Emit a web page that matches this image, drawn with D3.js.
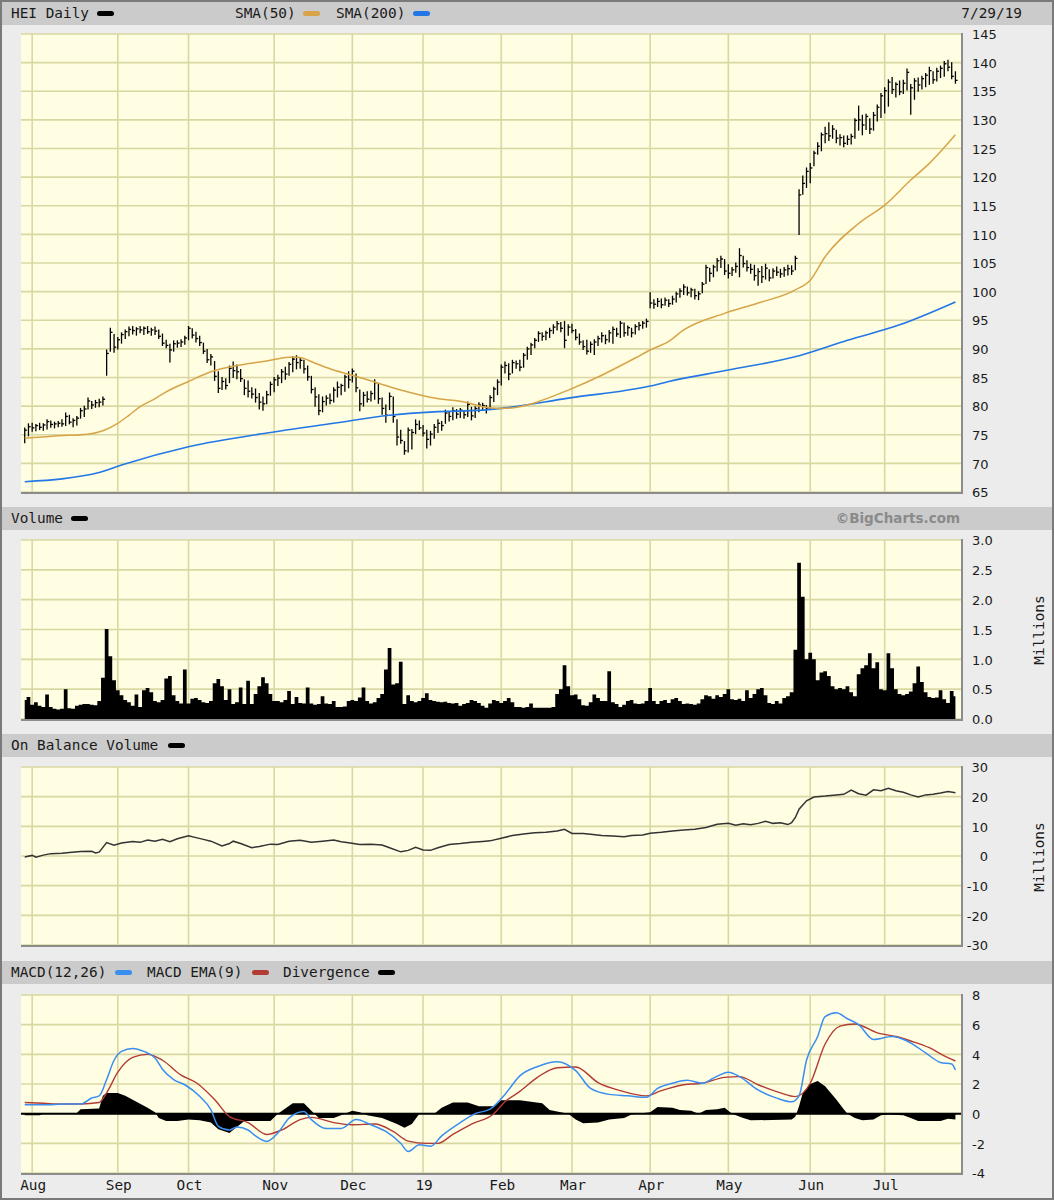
<!DOCTYPE html>
<html lang="en">
<head>
<meta charset="UTF-8">
<title>HEI Daily</title>
<script src="https://cdnjs.cloudflare.com/ajax/libs/d3/7.8.5/d3.min.js"></script>
<style>
    * { margin: 0; padding: 0; box-sizing: border-box; }
    body { background: #ffffff; width: 1054px; height: 1200px; overflow: hidden; }
    svg { display: block; }
    .hdr { font-family: "DejaVu Sans Mono", monospace; font-size: 14.4px; fill: #1a1a1a; }
    .tick { font-family: "DejaVu Sans", sans-serif; font-size: 13px; fill: #1a1a1a; }
    .month { font-family: "DejaVu Sans Mono", monospace; font-size: 14.4px; fill: #1a1a1a; }
    .copy { font-family: "DejaVu Sans", sans-serif; font-weight: bold; font-size: 13.5px; fill: #8a8a8a; }
</style>
</head>
<body>
<div id="chart"></div>
<script>
    // ---- data (trading days 7/30/18 .. 7/29/19) ----
    const monthLabels = ["Aug", "Sep", "Oct", "Nov", "Dec", "19", "Feb", "Mar", "Apr", "May", "Jun", "Jul"];
    const monthDays = [2, 23, 19, 23, 21, 19, 21, 19, 21, 21, 22, 20, 20]; // first entry = last days of Jul 2018

    const priceLow = [
        73.6, 74.8, 75.6, 75.7, 75.9, 75.8, 76.0, 76.3, 76.2, 76.4, 76.5, 76.6, 76.9, 76.4, 76.7, 77.9, 78.2, 79.5, 79.6, 79.8, 79.9, 80.2, 85.4, 89.6, 89.4,
        90.0, 91.0, 91.8, 92.3, 92.6, 92.4, 92.8, 92.5, 92.7, 92.4, 92.5, 91.8, 90.6, 90.2, 87.7, 89.6, 90.3, 90.4, 90.8,
        91.6, 91.9, 91.2, 90.6, 89.2, 87.6, 87.2, 84.5, 82.4, 82.9, 83.0, 84.1, 85.0, 84.8, 84.3, 82.0, 81.6, 81.4, 80.7, 79.5, 79.3, 80.4, 81.9,
        82.5, 83.6, 84.1, 84.7, 85.4, 86.0, 86.5, 86.6, 85.8, 84.5, 82.3, 80.0, 78.5, 79.0, 80.2, 80.4, 80.7, 81.6, 82.0, 82.6, 83.2,
        84.2, 82.5, 79.2, 80.0, 80.7, 80.9, 81.2, 80.5, 78.6, 77.2, 79.4, 77.2, 73.2, 73.5, 71.6, 72.0, 72.5, 75.2, 75.9,
        74.8, 72.7, 73.2, 74.4, 75.4, 75.8, 77.0, 77.4, 77.6, 77.9, 78.0, 77.9, 78.2, 77.6, 78.0, 79.0, 79.4, 78.8, 79.6, 80.8, 82.0,
        83.7, 85.8, 84.6, 85.8, 86.6, 86.2, 86.8, 88.2, 89.0, 90.2, 91.3, 91.5, 91.6, 92.0, 92.7, 93.3, 93.0, 90.2, 92.4,
        92.8, 91.6, 90.8, 89.9, 89.1, 89.4, 89.0, 90.6, 91.2, 90.9, 91.2, 91.0, 92.2, 92.0, 92.2, 92.4, 92.1, 92.6, 93.3, 93.6, 93.8,
        97.2, 97.1, 97.4, 97.2, 97.6, 97.4, 97.8, 98.2, 99.0, 99.5, 99.4, 99.1, 98.7, 98.6, 99.8, 101.4, 101.8, 102.6, 103.6, 104.2, 103.0,
        102.4, 102.8, 103.4, 102.6, 104.3, 103.6, 103.2, 102.0, 101.1, 101.6, 102.2, 101.9, 102.4, 102.8, 102.5, 102.7, 102.9, 103.0, 103.8, 110.0, 117.0, 118.2,
        119.0, 122.0, 124.0, 124.6, 126.0, 126.4, 126.8, 126.0, 125.6, 125.3, 125.7, 125.8, 126.8, 128.2, 127.4, 128.3, 127.6, 128.2, 129.8, 130.4,
        131.2, 132.4, 134.6, 134.0, 134.4, 134.6, 135.2, 131.0, 133.6, 135.0, 135.4, 135.8, 136.2, 136.4, 136.8, 137.4, 137.6, 138.6, 137.2, 136.4
    ];
    const priceHigh = [
        76.2, 76.9, 77.0, 76.8, 77.0, 76.9, 77.6, 77.4, 77.2, 77.3, 77.6, 78.8, 78.4, 77.8, 78.2, 79.6, 80.0, 81.4, 80.8, 81.0, 81.2, 81.6, 89.8, 93.6, 92.5,
        92.0, 92.8, 93.3, 93.8, 93.9, 93.7, 93.9, 93.8, 93.9, 93.6, 93.8, 93.3, 92.6, 91.5, 90.8, 91.4, 91.4, 91.6, 92.2,
        93.9, 93.5, 92.9, 92.2, 91.0, 89.9, 89.0, 87.8, 86.0, 85.0, 84.8, 87.0, 87.7, 87.2, 86.4, 84.6, 84.4, 83.2, 83.0, 82.2, 81.6, 82.6, 84.2,
        85.0, 85.4, 86.4, 86.8, 87.6, 88.6, 88.8, 88.3, 88.0, 87.0, 85.2, 83.2, 82.0, 81.6, 81.8, 82.1, 83.2, 84.2, 83.8, 85.4, 86.0,
        86.5, 85.6, 82.8, 82.4, 82.5, 82.6, 84.6, 84.0, 81.4, 80.2, 82.3, 81.6, 77.6, 75.8, 73.8, 76.2, 75.9, 77.6, 77.4,
        76.6, 75.8, 75.6, 76.8, 77.6, 77.3, 79.3, 78.9, 79.7, 79.4, 79.6, 79.2, 80.7, 79.8, 79.9, 80.6, 80.5, 80.1, 81.8, 83.3, 84.6,
        87.2, 87.7, 87.4, 88.0, 87.9, 88.0, 89.2, 90.3, 91.0, 91.8, 93.0, 92.8, 93.1, 93.6, 94.2, 94.8, 94.6, 94.8, 94.2,
        94.3, 93.4, 92.6, 91.4, 91.5, 91.2, 91.6, 92.2, 92.8, 92.4, 93.2, 93.8, 93.6, 94.8, 94.5, 94.0, 93.6, 94.2, 94.6, 94.8, 95.2,
        99.8, 98.6, 98.8, 98.7, 98.9, 98.6, 99.2, 99.9, 100.5, 101.2, 100.8, 100.6, 100.4, 100.0, 101.6, 104.6, 104.1, 104.6, 105.8, 106.2, 105.6,
        104.7, 104.2, 105.0, 107.5, 106.2, 105.4, 104.8, 104.6, 104.0, 104.4, 104.8, 103.8, 104.0, 104.3, 103.9, 104.2, 104.6, 104.5, 106.2, 117.8, 120.2, 121.6,
        122.4, 124.5, 126.0, 127.7, 128.7, 129.5, 129.0, 128.2, 127.4, 127.2, 127.2, 127.5, 130.2, 132.4, 130.8, 131.0, 130.2, 131.3, 132.6, 134.6,
        135.6, 137.0, 137.4, 136.5, 136.8, 136.9, 138.9, 136.2, 137.2, 137.3, 137.6, 138.1, 139.2, 138.4, 139.0, 139.4, 140.2, 140.4, 140.0, 138.4
    ];
    const priceClose = [
        75.8, 76.4, 76.2, 76.6, 76.3, 76.7, 77.3, 76.8, 76.9, 77.0, 76.9, 78.2, 77.2, 77.5, 77.9, 79.2, 79.5, 80.9, 80.2, 80.6, 80.7, 81.2, 89.2, 92.9, 90.3,
        91.6, 92.5, 93.0, 93.4, 93.2, 93.5, 93.3, 93.6, 93.0, 93.3, 93.1, 92.2, 91.0, 90.6, 89.8, 90.9, 91.0, 91.2, 91.9,
        93.6, 92.4, 91.8, 91.1, 89.6, 88.1, 88.6, 85.2, 83.1, 84.3, 83.6, 86.6, 86.2, 86.0, 84.8, 83.1, 82.6, 82.1, 81.5, 80.7, 80.4, 82.0, 83.8,
        84.6, 84.9, 86.0, 85.6, 87.3, 88.2, 87.6, 88.0, 86.5, 85.1, 82.9, 81.6, 79.2, 80.8, 81.4, 81.0, 82.8, 83.3, 83.6, 85.1, 84.6,
        86.1, 83.2, 80.4, 81.9, 81.2, 82.2, 84.1, 81.3, 79.6, 78.4, 81.7, 78.2, 74.6, 74.0, 72.2, 75.8, 75.4, 76.8, 76.2,
        75.3, 74.2, 75.1, 76.3, 77.0, 76.6, 78.8, 78.2, 79.2, 78.6, 79.3, 78.5, 80.3, 78.3, 79.6, 80.2, 80.1, 79.5, 81.5, 83.0, 84.2,
        86.8, 87.1, 85.6, 87.6, 87.4, 86.8, 88.9, 90.0, 90.7, 91.5, 92.7, 92.2, 92.8, 93.2, 93.8, 94.4, 93.6, 91.5, 93.8,
        93.2, 92.0, 91.2, 90.4, 89.6, 90.8, 91.2, 91.8, 92.3, 91.6, 92.8, 93.4, 92.6, 94.5, 92.8, 93.7, 92.8, 93.9, 94.1, 94.5, 94.8,
        98.0, 97.8, 98.3, 97.7, 98.5, 97.9, 98.7, 99.6, 100.1, 100.8, 99.8, 100.3, 99.3, 99.6, 101.3, 104.2, 103.2, 104.3, 105.4, 105.7, 103.6,
        103.2, 103.8, 104.4, 106.3, 104.9, 104.2, 103.9, 102.8, 103.5, 102.6, 104.1, 102.4, 103.6, 103.4, 103.1, 103.8, 104.0, 103.6, 105.8, 116.9, 118.9, 121.0,
        121.6, 124.2, 125.4, 127.4, 127.6, 127.2, 128.4, 126.8, 126.9, 125.9, 126.6, 127.1, 129.9, 130.0, 129.1, 130.6, 128.4, 130.8, 132.2, 134.2,
        135.1, 136.6, 135.3, 136.2, 134.9, 136.4, 138.3, 135.6, 136.8, 136.1, 137.2, 137.8, 138.6, 137.0, 138.5, 139.0, 139.8, 139.2, 137.6, 136.9
    ];

    // moving averages, read at sample days
    const sma50Day = [0, 8, 17, 21, 25, 28, 31, 35, 38, 44, 50, 58, 65, 72, 74, 78, 83, 88, 95, 101, 110, 119, 123, 128, 133, 138, 146, 155, 164, 168, 173, 177, 188, 197, 207, 211, 215, 224, 231, 238, 243, 250];
    const sma50 = [74.4, 74.8, 75.1, 75.7, 77.0, 78.4, 79.9, 81.3, 82.5, 84.3, 86.0, 87.2, 87.9, 88.6, 88.5, 87.5, 86.3, 85.4, 84.0, 82.8, 81.4, 80.6, 79.9, 79.6, 79.9, 80.8, 82.8, 85.4, 88.4, 89.8, 91.3, 93.3, 96.2, 98.0, 100.3, 102.0, 106.1, 111.9, 115.1, 119.5, 122.4, 127.4];
    const sma200Day = [0, 20, 26, 44, 65, 83, 98, 110, 123, 128, 146, 168, 173, 189, 208, 221, 235, 250];
    const sma200 = [66.8, 68.4, 69.7, 72.9, 75.3, 77.0, 78.4, 79.0, 79.3, 79.6, 81.4, 83.5, 84.3, 86.3, 88.8, 91.5, 94.2, 98.2];

    // volume, millions
    const volume = [
        0.32, 0.37, 0.24, 0.28, 0.22, 0.20, 0.41, 0.20, 0.17, 0.16, 0.17, 0.50, 0.18, 0.17, 0.22, 0.24, 0.25, 0.25, 0.24, 0.23, 0.30, 0.69, 1.51, 1.05, 0.65,
        0.48, 0.40, 0.32, 0.28, 0.22, 0.41, 0.20, 0.48, 0.52, 0.45, 0.30, 0.28, 0.32, 0.68, 0.72, 0.40, 0.30, 0.26, 0.83,
        0.26, 0.34, 0.35, 0.32, 0.28, 0.27, 0.30, 0.60, 0.67, 0.55, 0.32, 0.50, 0.25, 0.28, 0.53, 0.25, 0.64, 0.25, 0.42, 0.55, 0.70, 0.60, 0.42,
        0.30, 0.30, 0.28, 0.32, 0.47, 0.25, 0.37, 0.27, 0.26, 0.53, 0.26, 0.24, 0.25, 0.38, 0.26, 0.25, 0.30, 0.20, 0.20, 0.21, 0.30,
        0.32, 0.30, 0.36, 0.53, 0.30, 0.26, 0.28, 0.35, 0.42, 0.83, 1.19, 0.58, 0.60, 0.96, 0.25, 0.40, 0.30, 0.28, 0.30,
        0.35, 0.43, 0.32, 0.30, 0.29, 0.28, 0.29, 0.27, 0.26, 0.27, 0.22, 0.25, 0.27, 0.32, 0.30, 0.27, 0.22, 0.19, 0.26, 0.32, 0.30,
        0.27, 0.30, 0.35, 0.28, 0.20, 0.20, 0.19, 0.20, 0.26, 0.19, 0.19, 0.19, 0.19, 0.19, 0.20, 0.42, 0.50, 0.90, 0.55,
        0.40, 0.41, 0.33, 0.23, 0.22, 0.28, 0.41, 0.35, 0.30, 0.30, 0.80, 0.28, 0.25, 0.20, 0.24, 0.30, 0.32, 0.26, 0.25, 0.26, 0.30,
        0.52, 0.30, 0.25, 0.30, 0.32, 0.27, 0.33, 0.35, 0.30, 0.25, 0.26, 0.25, 0.24, 0.26, 0.33, 0.40, 0.38, 0.34, 0.40, 0.37, 0.42,
        0.50, 0.33, 0.32, 0.34, 0.30, 0.48, 0.35, 0.42, 0.50, 0.52, 0.40, 0.27, 0.25, 0.30, 0.26, 0.35, 0.38, 0.45, 1.16, 2.62, 2.05, 1.00,
        1.11, 1.00, 0.65, 0.78, 0.80, 0.72, 0.55, 0.50, 0.52, 0.50, 0.55, 0.45, 0.38, 0.75, 0.85, 0.90, 1.10, 0.85, 0.95, 0.50,
        0.48, 1.10, 0.85, 0.50, 0.42, 0.40, 0.42, 0.46, 0.60, 0.88, 0.62, 0.45, 0.37, 0.35, 0.36, 0.48, 0.33, 0.27, 0.47, 0.38
    ];

    // on balance volume, millions
    const obvDay = [0, 2, 3, 5, 7, 10, 12, 15, 18, 19, 20, 22, 24, 26, 29, 31, 33, 35, 37, 39, 41, 44, 46, 48, 50, 53, 55, 56, 58, 61, 63, 66, 68, 71, 74, 77, 80, 83, 85, 87, 90, 93, 96, 98, 101, 103, 105, 107, 109, 111, 114, 117, 120, 123, 125, 128, 131, 134, 137, 140, 143, 145, 147, 150, 152, 155, 158, 161, 163, 166, 168, 171, 174, 177, 180, 183, 186, 189, 191, 193, 195, 197, 199, 201, 203, 205, 206, 207, 208, 210, 212, 215, 218, 220, 222, 224, 226, 228, 230, 232, 234, 236, 238, 240, 242, 244, 246, 248, 250];
    const obv = [-0.3, 0.2, -0.4, 0.3, 0.8, 0.9, 1.2, 1.5, 1.6, 1.0, 1.3, 4.5, 3.6, 4.4, 4.9, 4.6, 5.4, 5.0, 5.6, 4.8, 5.8, 6.8, 6.2, 5.6, 5.0, 3.4, 4.2, 5.0, 4.2, 2.8, 3.2, 4.0, 3.9, 5.0, 5.3, 4.6, 5.0, 5.4, 4.8, 4.5, 3.9, 4.0, 3.7, 2.8, 1.4, 1.9, 2.9, 2.0, 1.9, 2.8, 3.9, 4.2, 4.6, 4.9, 5.1, 6.0, 6.9, 7.4, 7.8, 8.0, 8.4, 9.0, 7.6, 7.6, 7.3, 6.9, 6.7, 6.5, 6.9, 7.1, 7.7, 8.0, 8.4, 8.8, 9.0, 9.6, 10.7, 11.0, 10.4, 10.9, 10.5, 11.0, 11.7, 11.0, 11.2, 10.6, 11.2, 13.0, 15.8, 18.6, 19.9, 20.2, 20.6, 20.8, 22.2, 21.0, 20.5, 22.3, 22.0, 22.8, 22.0, 21.5, 20.6, 19.9, 20.6, 20.8, 21.2, 21.7, 21.3];

    // MACD(12,26), EMA(9) signal and divergence
    const macdDay = [0, 5, 11, 15, 18, 20, 22, 24, 26, 29, 32, 35, 37, 40, 43, 47, 50, 52, 55, 57, 60, 62, 65, 68, 71, 75, 77, 81, 85, 89, 93, 97, 101, 103, 106, 109, 112, 117, 121, 125, 129, 133, 138, 143, 148, 152, 157, 162, 167, 170, 174, 178, 182, 185, 189, 192, 197, 202, 206, 208, 210, 213, 215, 218, 221, 224, 228, 233, 237, 242, 246, 249, 250];
    const macd = [0.6, 0.6, 0.65, 0.65, 1.06, 1.2, 2.3, 3.6, 4.2, 4.4, 4.2, 3.75, 3.0, 2.3, 1.95, 1.17, 0.27, -0.85, -1.1, -0.9, -1.1, -1.5, -1.87, -1.3, -0.3, 0.15, -0.4, -1.0, -1.0, -0.4, -0.75, -1.2, -2.0, -2.55, -2.1, -2.2, -1.5, -0.6, 0.0, 0.3, 1.3, 2.55, 3.2, 3.5, 2.9, 1.7, 1.3, 1.2, 1.1, 1.7, 2.05, 2.25, 2.05, 2.4, 2.8, 2.5, 1.6, 1.05, 0.8, 1.2, 3.6, 5.2, 6.55, 6.8, 6.4, 6.0, 5.0, 5.2, 4.9, 4.1, 3.45, 3.35, 2.95];
    const signalDay = [0, 5, 10, 15, 20, 22, 25, 29, 33, 37, 42, 46, 51, 55, 60, 65, 69, 74, 77, 83, 88, 94, 99, 103, 108, 111, 115, 120, 126, 129, 133, 138, 143, 148, 154, 160, 167, 171, 177, 182, 188, 192, 197, 203, 207, 211, 215, 219, 223, 229, 234, 238, 243, 247, 250];
    const signal = [0.75, 0.7, 0.65, 0.65, 0.75, 1.4, 2.8, 3.8, 4.0, 3.6, 2.6, 2.1, 0.95, -0.2, -0.6, -1.4, -1.1, -0.4, -0.25, -0.6, -0.75, -0.7, -1.2, -1.85, -2.0, -2.0, -1.4, -0.7, 0.0, 0.8, 1.5, 2.5, 3.1, 3.15, 2.1, 1.55, 1.2, 1.55, 1.95, 2.05, 2.45, 2.5, 1.95, 1.4, 1.15, 2.05, 4.7, 5.9, 6.05, 5.45, 5.2, 4.9, 4.45, 3.9, 3.55];
    const divDay = [0, 4, 5, 14, 15, 20, 21, 22, 25, 27, 30, 33, 35, 36, 38, 41, 44, 47, 50, 52, 55, 57, 59, 62, 66, 68, 70, 72, 75, 77, 79, 83, 86, 88, 90, 92, 96, 100, 102, 104, 106, 110, 112, 115, 119, 122, 126, 128, 133, 136, 139, 141, 146, 148, 150, 154, 157, 161, 163, 168, 170, 174, 176, 179, 181, 183, 186, 188, 190, 193, 195, 206, 207, 208, 209, 211, 213, 215, 218, 220, 221, 223, 225, 228, 230, 232, 236, 238, 240, 246, 248, 250];
    const divergence = [-0.1, -0.1, 0, 0.05, 0.3, 0.35, 1.2, 1.4, 1.4, 1.2, 0.8, 0.4, 0.1, -0.3, -0.5, -0.5, -0.4, -0.45, -0.6, -1.05, -1.3, -0.9, -0.5, -0.5, -0.5, 0.0, 0.35, 0.7, 0.7, 0.2, -0.3, -0.3, 0.0, 0.2, 0.1, -0.1, -0.3, -0.7, -0.95, -0.7, 0.0, 0.0, 0.4, 0.75, 0.75, 0.5, 0.5, 0.9, 0.9, 0.8, 0.7, 0.25, 0.0, -0.4, -0.65, -0.6, -0.4, -0.3, -0.05, 0.1, 0.45, 0.4, 0.25, 0.2, 0.0, 0.25, 0.3, 0.4, 0.0, -0.3, -0.45, -0.4, -0.2, 0.5, 1.4, 2.0, 2.2, 1.85, 0.95, 0.3, 0.0, -0.3, -0.45, -0.4, -0.1, -0.05, -0.1, -0.3, -0.5, -0.5, -0.35, -0.4];

    const priceTicks = d3.range(65, 146, 5);
    const volTicks = [0, 0.5, 1.0, 1.5, 2.0, 2.5, 3.0];
    const obvTicks = [-30, -20, -10, 0, 10, 20, 30];
    const macdTicks = [-4, -2, 0, 2, 4, 6, 8];

    // ---- layout ----
    const W = 1054, H = 1200;
    const plotL = 21, plotR = 961;
    const colors = {
        header: "#cbcbcb", body: "#ececec", plot: "#fffde2", grid: "#d9d8a2",
        sma50: "#d8a448", sma200: "#2277e6", macd: "#3a8ef0", signal: "#b23b33"
    };

    const svg = d3.select("#chart").append("svg")
        .attr("width", W).attr("height", H);

    svg.append("rect").attr("width", W).attr("height", H).attr("fill", colors.body);

    const x = d3.scaleLinear().domain([-1, 251.5]).range([plotL, plotR]);
    const monthStart = [];
    let acc = 0;
    monthDays.forEach((d, i) => { if (i > 0) monthStart.push(acc); acc += d; });

    const panels = [
        {hy: 2, top: 34, bottom: 492, y: d3.scaleLinear().domain([65, 145]).range([492, 34]), ticks: priceTicks, fmt: d => d},
        {hy: 507, top: 540, bottom: 719, y: d3.scaleLinear().domain([0, 3]).range([719, 540]), ticks: volTicks, fmt: d3.format(".1f")},
        {hy: 734, top: 767, bottom: 945, y: d3.scaleLinear().domain([-30, 30]).range([945, 767]), ticks: obvTicks, fmt: d => d, right: true},
        {hy: 961, top: 995, bottom: 1173, y: d3.scaleLinear().domain([-4, 8]).range([1173, 995]), ticks: macdTicks, fmt: d => d}
    ];

    panels.forEach(p => {
        svg.append("rect").attr("x", 2).attr("y", p.hy).attr("width", W - 4).attr("height", 23)
            .attr("fill", colors.header);
        svg.append("rect").attr("x", plotL).attr("y", p.top)
            .attr("width", plotR - plotL).attr("height", p.bottom - p.top)
            .attr("fill", colors.plot);

        const g = svg.append("g");
        g.selectAll(".hg").data(p.ticks).join("line")
            .attr("x1", plotL).attr("x2", plotR)
            .attr("y1", d => p.y(d)).attr("y2", d => p.y(d))
            .attr("stroke", colors.grid).attr("stroke-width", 1.6);
        g.selectAll(".vg").data(monthStart).join("line")
            .attr("x1", d => x(d)).attr("x2", d => x(d))
            .attr("y1", p.top).attr("y2", p.bottom)
            .attr("stroke", colors.grid).attr("stroke-width", 1.6);

        // right axis labels
        const axis = d3.axisRight(p.y).tickValues(p.ticks).tickFormat(p.fmt).tickSize(0).tickPadding(0);
        const ag = svg.append("g").attr("transform", `translate(${p.right ? 988 : 972},0)`).call(axis);
        ag.select(".domain").remove();
        ag.selectAll("text").attr("class", "tick").attr("font-family", null).attr("font-size", null)
            .attr("fill", null).attr("text-anchor", p.right ? "end" : "start").attr("dy", "0.36em");
    });

    // ---- price bars and moving averages ----
    const yP = panels[0].y;
    const bars = svg.append("g").attr("stroke", "#000").attr("stroke-width", 1.3);
    bars.selectAll(".hl").data(priceClose).join("line")
        .attr("x1", (d, i) => x(i)).attr("x2", (d, i) => x(i))
        .attr("y1", (d, i) => yP(priceLow[i]) + 0.5).attr("y2", (d, i) => yP(priceHigh[i]) - 0.5);
    bars.selectAll(".cl").data(priceClose).join("line")
        .attr("x1", (d, i) => x(i)).attr("x2", (d, i) => x(i) + 2.2)
        .attr("y1", d => yP(d)).attr("y2", d => yP(d));

    const smaLine = d3.line().curve(d3.curveMonotoneX).x(d => x(d[0])).y(d => yP(d[1]));
    svg.append("path").datum(d3.zip(sma200Day, sma200)).attr("d", smaLine)
        .attr("fill", "none").attr("stroke", colors.sma200).attr("stroke-width", 1.6);
    svg.append("path").datum(d3.zip(sma50Day, sma50)).attr("d", smaLine)
        .attr("fill", "none").attr("stroke", colors.sma50).attr("stroke-width", 1.5);

    // ---- volume ----
    const yV = panels[1].y;
    svg.append("path").datum(volume)
        .attr("d", d3.area().curve(d3.curveStep).x((d, i) => x(i)).y0(yV(0)).y1(d => yV(d)))
        .attr("fill", "#000");

    // ---- OBV ----
    const yO = panels[2].y;
    svg.append("path").datum(d3.zip(obvDay, obv))
        .attr("d", d3.line().x(d => x(d[0])).y(d => yO(d[1])))
        .attr("fill", "none").attr("stroke", "#333").attr("stroke-width", 1.5);

    // ---- MACD ----
    const yM = panels[3].y;
    svg.append("path").datum(d3.zip(divDay, divergence))
        .attr("d", d3.area().x(d => x(d[0])).y0(yM(0)).y1(d => yM(d[1])))
        .attr("fill", "#000");
    svg.append("line").attr("x1", plotL).attr("x2", plotR).attr("y1", yM(0)).attr("y2", yM(0))
        .attr("stroke", "#000").attr("stroke-width", 2);
    const mLine = d3.line().curve(d3.curveMonotoneX).x(d => x(d[0])).y(d => yM(d[1]));
    svg.append("path").datum(d3.zip(signalDay, signal)).attr("d", mLine)
        .attr("fill", "none").attr("stroke", colors.signal).attr("stroke-width", 1.4);
    svg.append("path").datum(d3.zip(macdDay, macd)).attr("d", mLine)
        .attr("fill", "none").attr("stroke", colors.macd).attr("stroke-width", 1.5);

    // plot frames (shadow on right / bottom)
    panels.forEach(p => {
        svg.append("path")
            .attr("d", `M${plotR + 1},${p.top - 1}V${p.bottom + 1}H${plotL}`)
            .attr("fill", "none").attr("stroke", "#8c8c8c").attr("stroke-width", 2);
    });

    // month labels
    svg.selectAll(".month").data(monthStart).join("text")
        .attr("class", "month").attr("x", d => x(d) + 1).attr("y", 1190)
        .attr("text-anchor", "middle").text((d, i) => monthLabels[i]);

    // ---- headers / legends ----
    function legend(items, hy) {
        items.forEach(it => {
            svg.append("text").attr("class", "hdr").attr("x", it.x).attr("y", hy + 16).text(it.label);
            svg.append("rect").attr("x", it.sx).attr("y", hy + 9).attr("width", 17).attr("height", 5)
                .attr("rx", 2.5).attr("fill", it.color);
        });
    }
    legend([{label: "HEI Daily", x: 11, sx: 97, color: "#000"},
            {label: "SMA(50)", x: 235, sx: 303, color: colors.sma50},
            {label: "SMA(200)", x: 336, sx: 413, color: colors.sma200}], 2);
    svg.append("text").attr("class", "hdr").attr("x", 1022).attr("y", 18)
        .attr("text-anchor", "end").text("7/29/19");
    legend([{label: "Volume", x: 11, sx: 71, color: "#000"}], 507);
    svg.append("text").attr("class", "copy").attr("x", 960).attr("y", 523)
        .attr("text-anchor", "end").text("©BigCharts.com");
    legend([{label: "On Balance Volume", x: 11, sx: 168, color: "#000"}], 734);
    legend([{label: "MACD(12,26)", x: 11, sx: 115, color: colors.macd},
            {label: "MACD EMA(9)", x: 147, sx: 252, color: colors.signal},
            {label: "Divergence", x: 283, sx: 378, color: "#000"}], 961);

    [630, 857].forEach(cy => {
        svg.append("text").attr("class", "hdr")
            .attr("transform", `translate(1044,${cy}) rotate(-90)`)
            .attr("text-anchor", "middle").text("Millions");
    });

    // outer border
    svg.append("rect").attr("x", 1).attr("y", 1).attr("width", W - 2).attr("height", H - 2)
        .attr("fill", "none").attr("stroke", "#7a7a7a").attr("stroke-width", 2);
</script>
</body>
</html>
